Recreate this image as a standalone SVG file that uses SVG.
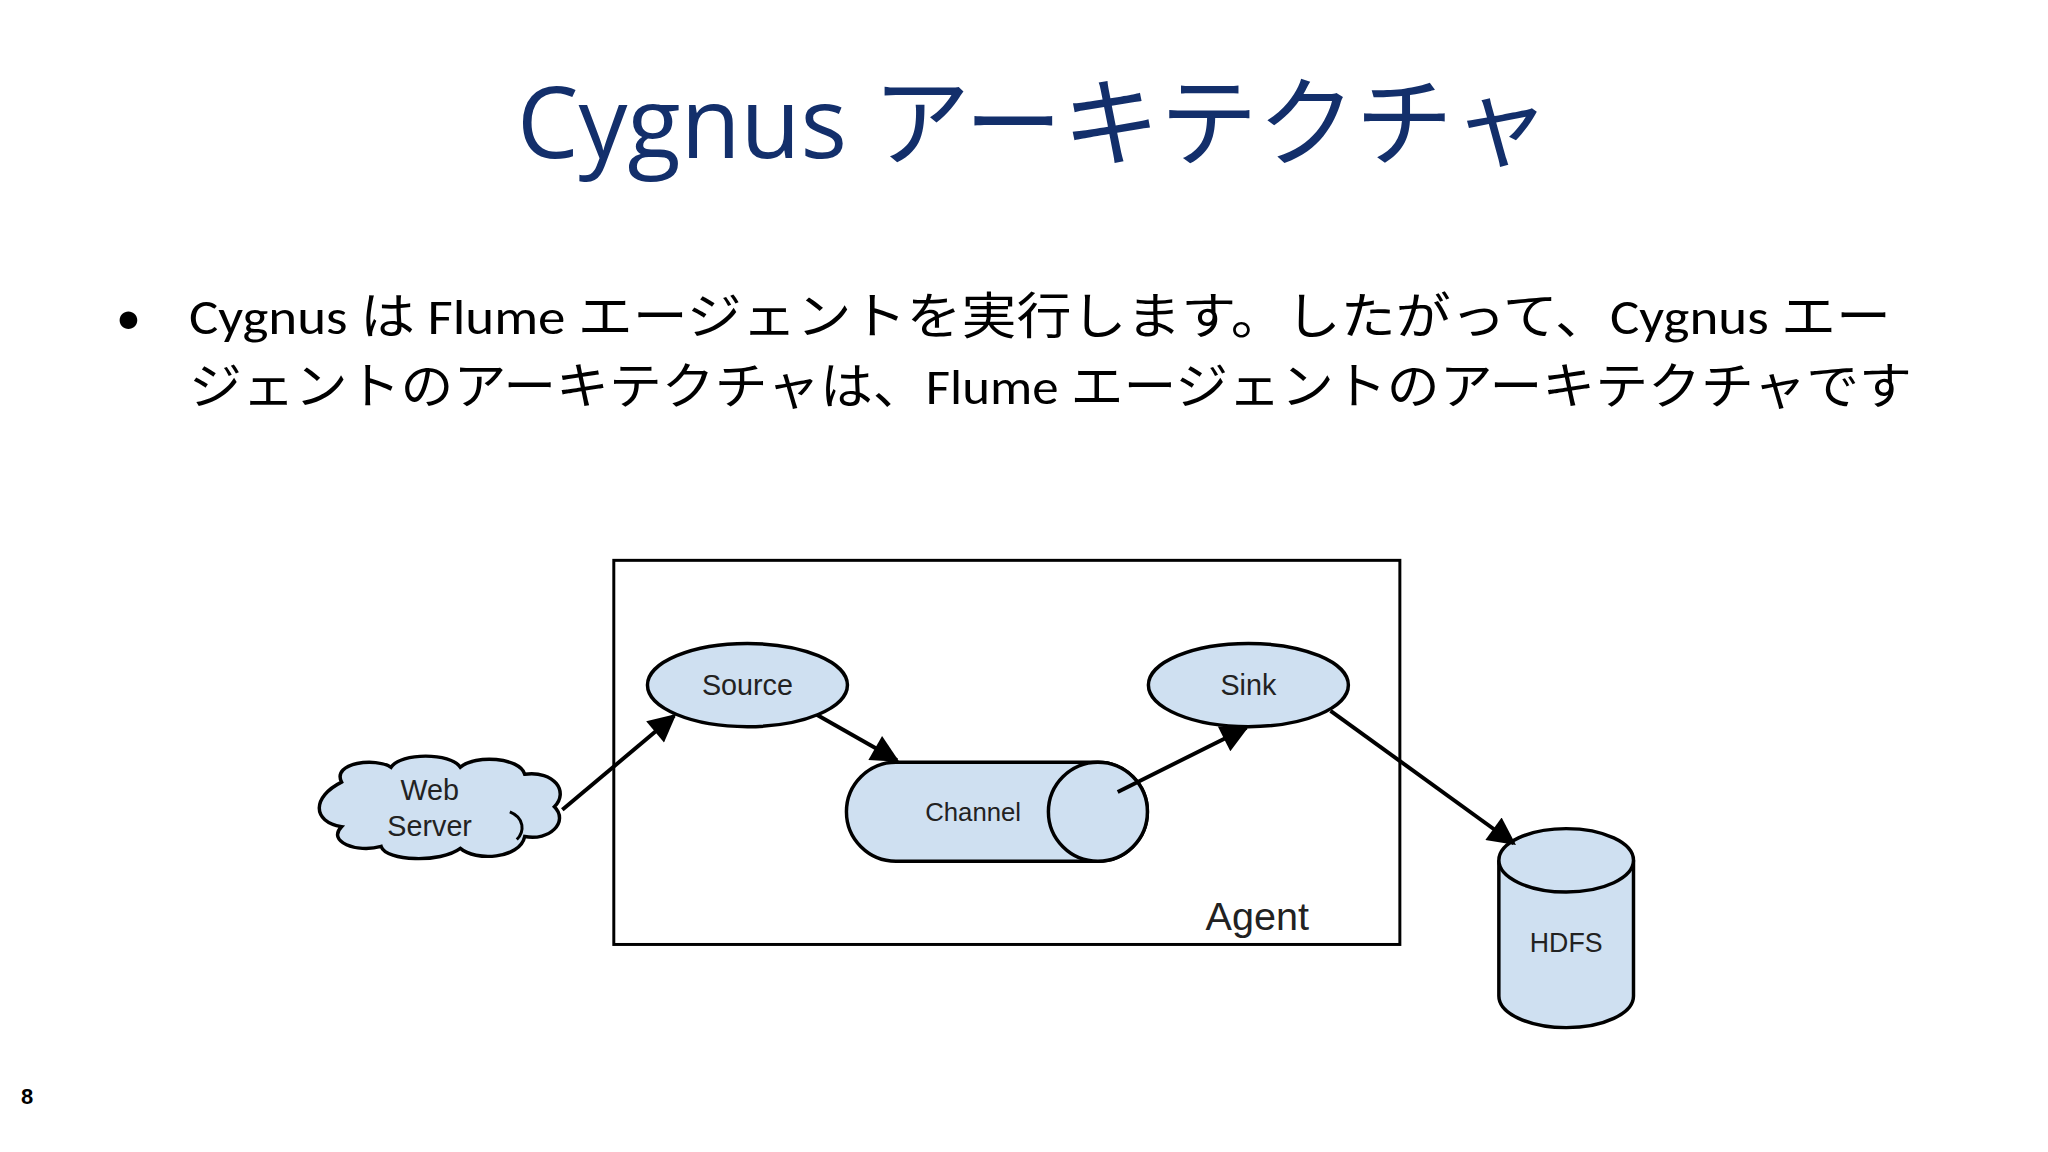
<svg xmlns="http://www.w3.org/2000/svg" width="2048" height="1152" viewBox="0 0 2048 1152">
<style>
.n{fill:#cfe0f1;stroke:#000;stroke-width:3.5}
.t{font-family:"Liberation Sans",Arial,sans-serif;fill:#222;text-anchor:middle}
.c{stroke:#000;stroke-width:4;fill:none;marker-end:url(#a)}
</style>
<defs><marker id="a" viewBox="0 0 10 10" refX="9" refY="5" markerWidth="8.5" markerHeight="7" orient="auto" markerUnits="strokeWidth"><path d="M0,0L10,5L0,10z" fill="#000"/></marker></defs>
<rect width="2048" height="1152" fill="#fff"/>
<text x="517" y="158" font-family="'Open Sans','Noto Sans CJK JP',sans-serif" font-size="98" fill="#132f6b" textLength="1033" lengthAdjust="spacingAndGlyphs">Cygnus アーキテクチャ</text>
<g font-family="Calibri,'Open Sans','Noto Sans CJK JP',sans-serif" font-size="50" fill="#000">
<text x="116" y="334">•</text>
<text x="189" y="334" textLength="1702" lengthAdjust="spacingAndGlyphs">Cygnus は Flume エージェントを実行します。したがって、Cygnus エー</text>
<text x="189" y="404" textLength="1723" lengthAdjust="spacingAndGlyphs">ジェントのアーキテクチャは、Flume エージェントのアーキテクチャです</text>
</g>
<text x="21" y="1104" font-family="'Liberation Sans',sans-serif" font-size="22" font-weight="bold">8</text>
<g transform="scale(0.99)">
<g id="agent"><rect x="620" y="566" width="794" height="388" fill="none" stroke="#000" stroke-width="3"/><text class="t" x="1270" y="939" font-size="40">Agent</text></g>
<g id="source"><ellipse class="n" cx="755" cy="692" rx="101" ry="42"/><text class="t" x="755" y="702" font-size="29">Source</text></g>
<g id="sink"><ellipse class="n" cx="1261" cy="692" rx="101" ry="42"/><text class="t" x="1261" y="702" font-size="29">Sink</text></g>
<g id="channel"><path class="n" d="M905,770H1109A50,50 0 0 1 1109,870H905A50,50 0 0 1 905,770z"/><ellipse class="n" cx="1109" cy="820" rx="50" ry="50"/><text class="t" x="983" y="829" font-size="26">Channel</text></g>
<g id="web"><path class="n" d="M345,790C335,770 380,765 395,775C405,760 455,760 465,775C480,762 525,765 530,782C560,778 575,800 560,815C575,830 555,850 530,845C525,868 480,870 465,857C445,872 390,870 385,855C360,862 330,850 345,835C315,830 315,805 345,790z"/><path d="M515,820C530,826 530,840 522,848" fill="none" stroke="#000" stroke-width="3"/><text class="t" x="434" y="808" font-size="29">Web</text><text class="t" x="434" y="844" font-size="29">Server</text></g>
<g id="hdfs"><path class="n" d="M1514,869V1006A68,32 0 0 0 1650,1006V869"/><ellipse class="n" cx="1582" cy="869" rx="68" ry="32"/><text class="t" x="1582" y="962" font-size="27">HDFS</text></g>
<g id="connectors">
<line class="c" x1="568" y1="818" x2="681" y2="723"/>
<line class="c" x1="825" y1="722" x2="906" y2="768"/>
<line class="c" x1="1129" y1="800" x2="1259" y2="735"/>
<line class="c" x1="1344" y1="718" x2="1529" y2="852"/>
</g>
</g>
</svg>
